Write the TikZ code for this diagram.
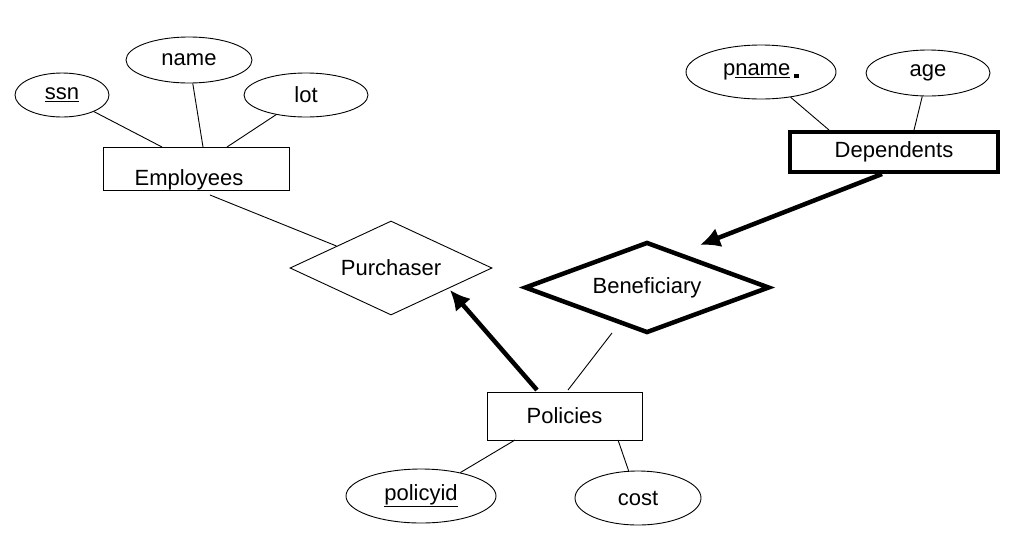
\documentclass[tikz,border=0pt]{standalone}
\usepackage{fontspec}
\setmainfont{Liberation Sans}
\usetikzlibrary{shapes.geometric,arrows.meta}
\begin{document}
\begin{tikzpicture}[x=1pt,y=-1pt,
  txt/.style={font=\fontsize{22}{24}\selectfont},
  attr/.style={draw,ellipse,line width=0.9pt,inner sep=0pt,txt},
  ent/.style={draw,rectangle,line width=0.9pt,inner sep=0pt,txt},
  wk/.style={line width=4.5pt},
  ln/.style={line width=0.9pt},
  thk/.style={line width=4.5pt,-{Latex[length=20pt,width=20pt]}}]
\useasboundingbox (0,0) rectangle (1024,539);
\node[attr,minimum width=94,minimum height=44] (ssn) at (62,95) {\underline{ssn}};
\node[attr,minimum width=126,minimum height=46] (name) at (189,60) {name};
\node[attr,minimum width=124,minimum height=44] (lot) at (306,95) {lot};
\node[ent,minimum width=186,minimum height=43] (emp) at (196,168.5) {};
\node[txt] (empt) at (189,180) {Employees};
\node[draw,diamond,aspect=2.15,line width=0.9pt,minimum width=202,minimum height=94,inner sep=0pt,txt] (pur) at (391,268) {Purchaser};
\node[attr,minimum width=150,minimum height=54] (pname) at (761,72) {p\underline{\smash{name}}\,\rule[-2pt]{5pt}{4pt}};
\node[attr,minimum width=124,minimum height=46] (age) at (928,73) {age};
\node[ent,wk,minimum width=208,minimum height=40] (dep) at (894,152) {Dependents};
\node[draw,diamond,wk,aspect=2.6,minimum width=245,minimum height=91,inner sep=0pt,txt] (ben) at (647,287.5) {Beneficiary};
\node[ent,minimum width=155,minimum height=48] (pol) at (564.5,416) {Policies};
\node[attr,minimum width=150,minimum height=54] (pid) at (421,496) {\underline{policyid}};
\node[attr,minimum width=126,minimum height=54] (cost) at (638,498) {cost};
\coordinate (e1) at (162,147); \coordinate (e2) at (203,147); \coordinate (e3) at (227,147);
\draw[ln] (ssn) -- (e1); \draw[ln] (name) -- (e2); \draw[ln] (lot) -- (e3);
\draw[ln] (210,195) -- (pur);
\coordinate (d1) at (829,130); \coordinate (d2) at (914,130);
\draw[ln] (pname) -- (d1); \draw[ln] (age) -- (d2);
\coordinate (ds) at (882,174);
\draw[thk] (ds) -- (700,245);
\coordinate (ps) at (537,390);
\draw[thk] (ps) -- (450,290);
\coordinate (p2) at (568,390);
\draw[ln] (p2) -- (612,333);
\coordinate (p3) at (515,440); \coordinate (p4) at (618,440);
\draw[ln] (p3) -- (pid); \draw[ln] (p4) -- (cost);
\end{tikzpicture}
\end{document}
